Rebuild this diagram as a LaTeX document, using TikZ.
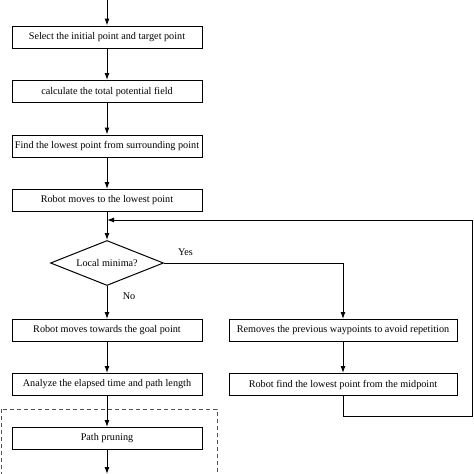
\documentclass[tikz,border=0pt]{standalone}
\usepackage{fontspec}
\setmainfont{Liberation Serif}
\usetikzlibrary{positioning,shapes.geometric,arrows.meta}

\begin{document}
\begin{tikzpicture}[x=1pt,y=-1pt,
          font=\fontsize{10.2}{12}\selectfont,
          box/.style={draw, line width=1pt, minimum width=190pt, minimum height=22pt, inner sep=2pt},
          widebox/.style={box, minimum width=228pt},
          decision/.style={draw, line width=1pt, diamond, aspect=2.5, minimum width=113pt, minimum height=45pt, inner sep=0pt},
          arr/.style={-{Latex[length=7pt,width=5pt]}, line width=1pt},
          group/.style={draw=black!60!blue!40!gray, dashed, line width=1pt, dash pattern=on 4pt off 3pt}]
          \useasboundingbox (0,0) rectangle (474,474);
          % main column
          \node[box] (init) at (107,37) {Select the initial point and target point};
          \node[box, below=31.5pt of init] (field) {calculate the total potential field};
          \node[box, below=31.5pt of field] (lowest) {Find the lowest point from surrounding point};
          \node[box, below=31.5pt of lowest] (move) {Robot moves to the lowest point};
          \node[decision, below=28pt of move] (minima) {Local minima?};
          \node[box, below=33pt of minima] (goal) {Robot moves towards the goal point};
          \node[box, below=31pt of goal] (elapsed) {Analyze the elapsed time and path length};
          \node[box, below=31pt of elapsed] (prune) {Path pruning};
          % right column
          \node[widebox, right=26pt of goal] (remove) {Removes the previous waypoints to avoid repetition};
          \node[widebox, below=31pt of remove] (midpt) {Robot find the lowest point from the midpoint};
          \coordinate (start) at (107,0);
          \coordinate (finish) at (107,474);
          \coordinate (loopR) at (472,416);
          \coordinate (loopT) at (472,220);
          % connectors
          \draw[arr] (start) -- (init);
          \draw[arr] (init) -- (field);
          \draw[arr] (field) -- (lowest);
          \draw[arr] (lowest) -- (move);
          \draw[arr] (move) -- (minima);
          \draw[arr] (minima) -- node[pos=0.3, right=12pt] {No} (goal);
          \draw[arr] (minima.east) -| node[pos=0.06, above=4pt] {Yes} (remove);
          \draw[arr] (remove) -- (midpt);
          \draw[arr] (midpt.south) |- (loopR) -- (loopT) -- (loopT -| move.south);
          \draw[arr] (goal) -- (elapsed);
          \draw[arr] (elapsed) -- (prune);
          \draw[arr] (prune) -- (finish);
          % dashed group
          \draw[group] (1,409) rectangle (217,490);
        \end{tikzpicture}
\end{document}
